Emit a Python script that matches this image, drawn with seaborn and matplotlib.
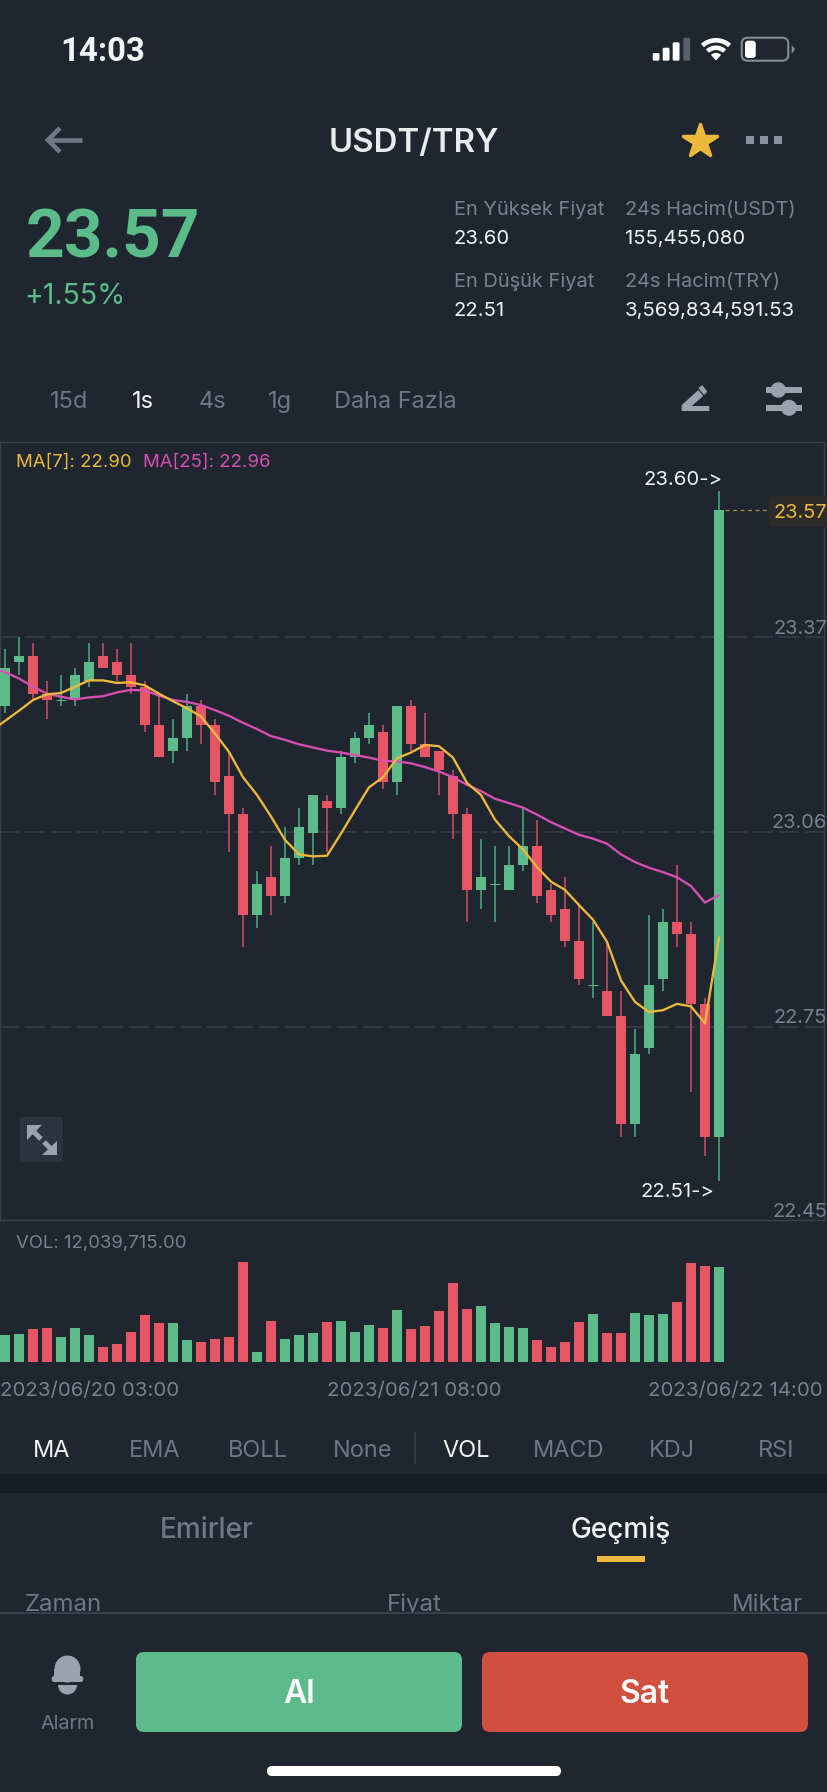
import numpy as np
import pandas as pd
import matplotlib
matplotlib.use("Agg")
import matplotlib.pyplot as plt
from matplotlib.markers import MarkerStyle
from matplotlib.patches import Rectangle, FancyBboxPatch, Wedge, Ellipse, Polygon, Circle
import seaborn as sns

# candles (one tick = 0.01)
opens = [23.26, 23.33, 23.34, 23.28, 23.27, 23.27, 23.30, 23.34, 23.33, 23.31, 23.29, 23.23, 23.19,
         23.21, 23.26, 23.23, 23.15, 23.09, 22.93, 22.99, 22.96, 23.02, 23.06, 23.11, 23.10, 23.18,
         23.21, 23.22, 23.14, 23.26, 23.20, 23.19, 23.15, 23.09, 22.97, 22.98, 22.97, 23.01, 23.04,
         22.97, 22.94, 22.89, 22.82, 22.81, 22.77, 22.60, 22.72, 22.83, 22.92, 22.90, 22.79, 22.58]
closes = [23.32, 23.34, 23.28, 23.27, 23.27, 23.31, 23.33, 23.32, 23.31, 23.29, 23.23, 23.18, 23.21,
          23.26, 23.23, 23.14, 23.09, 22.93, 22.98, 22.96, 23.02, 23.07, 23.12, 23.10, 23.18, 23.21,
          23.23, 23.14, 23.26, 23.20, 23.18, 23.16, 23.09, 22.97, 22.99, 22.98, 23.01, 23.04, 22.96,
          22.93, 22.89, 22.83, 22.82, 22.77, 22.60, 22.71, 22.82, 22.92, 22.90, 22.79, 22.58, 23.57]
highs = [23.35, 23.37, 23.36, 23.30, 23.31, 23.32, 23.36, 23.36, 23.35, 23.36, 23.30, 23.28, 23.24,
         23.28, 23.27, 23.24, 23.19, 23.10, 23.00, 23.04, 23.07, 23.10, 23.12, 23.12, 23.19, 23.22,
         23.25, 23.23, 23.26, 23.27, 23.25, 23.19, 23.16, 23.10, 23.05, 23.04, 23.04, 23.10, 23.08,
         22.98, 22.99, 22.95, 22.92, 22.89, 22.81, 22.75, 22.93, 22.94, 23.01, 22.92, 22.80, 23.60]
lows = [23.25, 23.31, 23.27, 23.24, 23.26, 23.26, 23.29, 23.32, 23.30, 23.28, 23.22, 23.18, 23.17,
        23.19, 23.20, 23.12, 23.03, 22.88, 22.91, 22.93, 22.95, 23.01, 23.01, 23.03, 23.09, 23.17,
        23.20, 23.13, 23.12, 23.19, 23.18, 23.12, 23.05, 22.92, 22.94, 22.92, 22.97, 23.00, 22.95,
        22.92, 22.88, 22.82, 22.80, 22.77, 22.58, 22.58, 22.71, 22.81, 22.88, 22.65, 22.55, 22.51]

# moving averages, first point belongs to the candle cut off at the left edge
ma7 = [23.221, 23.237, 23.253, 23.270, 23.279, 23.281, 23.291, 23.301, 23.301, 23.297, 23.298, 23.293,
       23.280, 23.268, 23.257, 23.244, 23.217, 23.188, 23.148, 23.120, 23.086, 23.049, 23.026, 23.023,
       23.024, 23.059, 23.096, 23.132, 23.148, 23.178, 23.187, 23.199, 23.197, 23.179, 23.139, 23.120,
       23.081, 23.055, 23.034, 23.006, 22.983, 22.970, 22.946, 22.923, 22.888, 22.827, 22.793, 22.777,
       22.780, 22.790, 22.786, 22.759, 22.895]
ma25 = [23.320, 23.314, 23.304, 23.291, 23.280, 23.275, 23.271, 23.274, 23.276, 23.282, 23.286, 23.285,
        23.277, 23.270, 23.267, 23.262, 23.254, 23.245, 23.234, 23.224, 23.213, 23.207, 23.200, 23.195,
        23.190, 23.187, 23.183, 23.179, 23.174, 23.173, 23.170, 23.164, 23.157, 23.148, 23.136, 23.126,
        23.114, 23.107, 23.100, 23.089, 23.077, 23.067, 23.057, 23.051, 23.043, 23.026, 23.014, 23.005,
        22.998, 22.990, 22.976, 22.950, 22.962]

# volume in millions
volumes = [3.40, 3.48, 4.11, 4.28, 3.10, 4.28, 3.40, 1.85, 2.22, 3.73, 5.91, 4.95, 4.87, 2.81, 2.56,
           2.85, 3.15, 12.63, 1.26, 5.24, 2.94, 3.40, 3.61, 5.03, 5.12, 3.73, 4.70, 4.24, 6.63, 4.11,
           4.53, 6.46, 9.98, 6.67, 7.05, 4.99, 4.40, 4.28, 2.77, 1.85, 2.52, 5.03, 6.04, 3.65, 3.69,
           6.21, 6.00, 6.04, 7.63, 12.46, 12.12, 12.04]

grid_prices = [23.37, 23.062, 22.754]
price_labels = ["23.37", "23.06", "22.75", "22.45"]
date_labels = ["2023/06/20 03:00", "2023/06/21 08:00", "2023/06/22 14:00"]
periods = ["15d", "1s", "4s", "1g", "Daha Fazla"]
indicators = ["MA", "EMA", "BOLL", "None", "VOL", "MACD", "KDJ", "RSI"]

BG = "#20262f"
GREEN = "#5bbc8a"
RED = "#e85565"
GREEN_WICK = "#3f8f6e"
RED_WICK = "#a84456"
YELLOW = "#ecb93c"
MAGENTA = "#d84fb4"
GRAY = "#7a818e"
DIM = "#6f7684"
ICON = "#9ca1ad"
WHITE = "#f2f3f5"
LINE = "#3a404b"

W, H = 828, 1792
PX = 0.72  # px to pt at dpi 100

sns.set_theme(style="dark", rc={"figure.facecolor": BG, "axes.facecolor": BG, "lines.scale_dashes": False})
plt.rcParams["font.family"] = ["Inter", "DejaVu Sans"]

df = pd.DataFrame({"i": np.arange(len(opens)), "open": opens, "close": closes, "high": highs,
                   "low": lows, "vol": volumes})
df["up"] = df["close"] >= df["open"]
df["side"] = np.where(df["up"], "up", "down")


def add_axes(left, top, right, bottom):
    return fig.add_axes([left / W, 1 - bottom / H, (right - left) / W, (bottom - top) / H])


fig = plt.figure(figsize=(W / 100, H / 100), dpi=100)

# price panel
ax = add_axes(0, 442, 824, 1220)
ax.set_xlim(-5 / 14, 819 / 14)
ax.set_ylim(22.4485, 23.6776)
ax.hlines(grid_prices, -1, 60, color=LINE, lw=1.5 * PX, linestyles=[(0, (20 * PX, 6 * PX))], zorder=1)
ax.vlines(df["i"], df["low"], df["high"], color=np.where(df["up"], GREEN_WICK, RED_WICK), lw=2 * PX, zorder=2)
ax.bar(df["i"], df["close"] - df["open"], bottom=df["open"], width=10 / 14,
       color=np.where(df["up"], GREEN, RED), linewidth=0, zorder=3)
doji = df[df["open"] == df["close"]]
ax.hlines(doji["open"], doji["i"] - 5 / 14, doji["i"] + 5 / 14, color=GREEN, lw=1 * PX, zorder=3)
ma_x = np.arange(-1, len(opens))
sns.lineplot(x=ma_x, y=ma25, color=MAGENTA, lw=2.3 * PX, errorbar=None, ax=ax, zorder=4)
sns.lineplot(x=ma_x, y=ma7, color=YELLOW, lw=2.3 * PX, errorbar=None, ax=ax, zorder=5)
ax.hlines(closes[-1], 51 + 6 / 14, 51 + 50 / 14, color="#a58c45", lw=1.3 * PX, linestyles=[(0, (4 * PX, 3.5 * PX))], zorder=2)
ax.set_xticks([])
ax.set_yticks([])
ax.set_xlabel("")
ax.set_ylabel("")
for side, spine in ax.spines.items():
    spine.set_visible(True)
    spine.set_color(LINE)
    spine.set_linewidth(1.4 * PX)

# volume panel
vax = add_axes(0, 1250, 824, 1362)
sns.barplot(data=df, x="i", y="vol", hue="side", palette={"up": GREEN, "down": RED}, hue_order=["up", "down"],
            native_scale=True, dodge=False, width=10 / 14, saturation=1, linewidth=0, legend=False, ax=vax)
vax.set_xlim(-5 / 14, 819 / 14)
vax.set_ylim(0, 14.15)
vax.set_axis_off()
vax.patch.set_alpha(0)

# everything around the chart, in screen pixels
ui = fig.add_axes([0, 0, 1, 1], zorder=10)
ui.set_xlim(0, W)
ui.set_ylim(H, 0)
ui.set_axis_off()
ui.patch.set_alpha(0)


def label(x, y, s, size, color=GRAY, ha="left", weight="normal", family=None, zorder=5):
    ui.text(x, y, s, fontsize=size * PX, color=color, ha=ha, va="baseline", fontweight=weight,
            family=family or ["Inter", "DejaVu Sans"], zorder=zorder)


def box(x0, y0, x1, y1, color, r=0, zorder=3, ec="none", lw=0):
    if r:
        ui.add_patch(FancyBboxPatch((x0 + r, y0 + r), x1 - x0 - 2 * r, y1 - y0 - 2 * r,
                                    boxstyle=f"round,pad={r},rounding_size={r}", fc=color, ec=ec, lw=lw, zorder=zorder))
    else:
        ui.add_patch(Rectangle((x0, y0), x1 - x0, y1 - y0, fc=color, ec=ec, lw=lw, zorder=zorder))


# status bar
label(60, 61, "14:03", 33, WHITE, weight="semibold", family="Roboto")
for x0, top, c in [(652.7, 53, "white"), (662.7, 47.7, "white"), (672.7, 42.3, "white"), (683.3, 37.7, "#5a606b")]:
    box(x0, top, x0 + 6.8, 60.7, c, r=1.5)
for r, width in [(22.5, 4.6), (15, 4.6), (7.6, None)]:
    ui.add_patch(Wedge((716, 60.5), r, 228, 312, width=width, fc="white", ec="none"))
box(741.7, 37.7, 788.3, 60.7, "none", r=6, ec="#8b8f97", lw=2 * PX)
box(745, 40.7, 755.7, 58, "white", r=3)
ui.add_patch(Polygon([(791.7, 45), (795, 49.3), (791.7, 54)], fc="#8b8f97", ec="none"))

# header
ui.plot([49, 82], [140, 140], color=DIM, lw=4.6 * PX, solid_capstyle="butt")
ui.plot([60, 48, 60], [128, 140, 152], color=DIM, lw=4.6 * PX, solid_joinstyle="miter", solid_capstyle="butt")
label(414, 152, "USDT/TRY", 33, "#e9ebee", ha="center", weight="semibold")
ui.plot(700, 141, marker=MarkerStyle("*", joinstyle="round"), ms=25, mfc=YELLOW, mec=YELLOW, mew=2.5)
for x0 in [746, 760, 774]:
    box(x0, 136, x0 + 8, 144, "#8a909c")

label(26, 258, "23.57", 67.5, GREEN, weight="bold", family="Roboto")
label(24, 304, "+1.55%", 28.5, GREEN)
label(454, 215, "En Yüksek Fiyat", 20, GRAY)
label(454, 244, "23.60", 20.2, WHITE)
label(625, 215, "24s Hacim(USDT)", 20, GRAY)
label(625, 244, "155,455,080", 20.2, WHITE)
label(454, 287, "En Düşük Fiyat", 20, GRAY)
label(454, 316, "22.51", 20.2, WHITE)
label(625, 287, "24s Hacim(TRY)", 20, GRAY)
label(625, 316, "3,569,834,591.53", 20.4, WHITE)

for x0, text in zip([50, 132, 199, 268, 334], periods):
    label(x0, 408, text, 23.5, WHITE if text == "1s" else DIM)
ui.add_patch(Polygon([(681.7, 405), (698.3, 390), (703.3, 396), (691.7, 406), (709.3, 406), (709.3, 411), (681.7, 411)],
                     fc=ICON, ec="none"))
ui.add_patch(Polygon([(698.3, 388), (702.3, 385), (707.3, 391.7), (704, 395)], fc=ICON, ec="none"))
box(766, 386.7, 802, 393.3, ICON)
box(766, 405, 802, 411, ICON)
ui.add_patch(Circle((778.3, 390), 7.7, fc=ICON, ec="none", zorder=4))
ui.add_patch(Circle((789, 407.8), 8, fc=ICON, ec="none", zorder=4))

# chart labels
label(16, 467, "MA[7]: 22.90", 18.6, YELLOW)
label(143, 467, "MA[25]: 22.96", 18.6, MAGENTA)
label(644, 485, "23.60->", 20.3, WHITE)
label(641, 1197, "22.51->", 20.3, WHITE)
box(769, 496, 828, 527, "#2d2b2a", r=6, zorder=2)
label(827, 518, "23.57", 20, YELLOW, ha="right")
for y, text in zip([634, 828, 1023, 1217], price_labels):
    label(827, y, text, 20, GRAY, ha="right")

box(20, 1117, 63, 1162, "#2d333e")
ui.add_patch(Polygon([(27, 1125), (42, 1125), (27, 1140)], fc=ICON, ec="none", zorder=4))
ui.add_patch(Polygon([(57, 1155), (42, 1155), (57, 1141)], fc=ICON, ec="none", zorder=4))
ui.plot([31, 41], [1129, 1139], color=ICON, lw=5 * PX, solid_capstyle="butt", zorder=4)
ui.plot([44, 54], [1142, 1152], color=ICON, lw=5 * PX, solid_capstyle="butt", zorder=4)

label(16, 1248, "VOL: 12,039,715.00", 18.5, GRAY)
label(0, 1396, date_labels[0], 20.4, GRAY)
label(414, 1396, date_labels[1], 20.4, GRAY, ha="center")
label(823, 1396, date_labels[2], 20.4, GRAY, ha="right")

# indicator tabs
for x0, text in zip([33, 129, 228, 333, 442, 533, 649, 758], indicators):
    label(x0, 1457, text, 23.5, WHITE if text in ("MA", "VOL") else DIM)
ui.plot([415, 415], [1432, 1463], color=LINE, lw=1.5 * PX)
box(0, 1474, W, 1493, "#181c25")

label(207, 1538, "Emirler", 28, DIM, ha="center", weight="medium")
label(621, 1538, "Geçmiş", 28, WHITE, ha="center", weight="medium")
box(597, 1556, 645, 1562, YELLOW)

label(25, 1611, "Zaman", 24, DIM, zorder=2)
label(414, 1611, "Fiyat", 24, DIM, ha="center", zorder=2)
label(803, 1611, "Miktar", 24, DIM, ha="right", zorder=2)
box(0, 1612, W, H, BG, zorder=3)
box(0, 1612, W, 1614.5, LINE, zorder=3)

# bottom bar
ui.add_patch(Ellipse((67.5, 1669), 26, 27, fc=ICON, ec="none", zorder=4))
box(54.5, 1669, 80.5, 1680, ICON, zorder=4)
box(51.7, 1676, 83.3, 1682, ICON, r=2.5, zorder=4)
ui.add_patch(Wedge((67.5, 1685), 9.5, 0, 180, fc=ICON, ec="none", zorder=4))
label(67.5, 1729, "Alarm", 19.8, DIM, ha="center")
box(136, 1652, 462, 1732, "#5dba8a", r=8, zorder=4)
box(482, 1652, 808, 1732, "#d14f3f", r=8, zorder=4)
label(299, 1703, "Al", 32, "white", ha="center", weight="semibold")
label(645, 1703, "Sat", 32, "white", ha="center", weight="semibold")
box(267, 1766, 561, 1776, "white", r=5, zorder=4)

fig.savefig("out.png", dpi=100, facecolor=BG)
